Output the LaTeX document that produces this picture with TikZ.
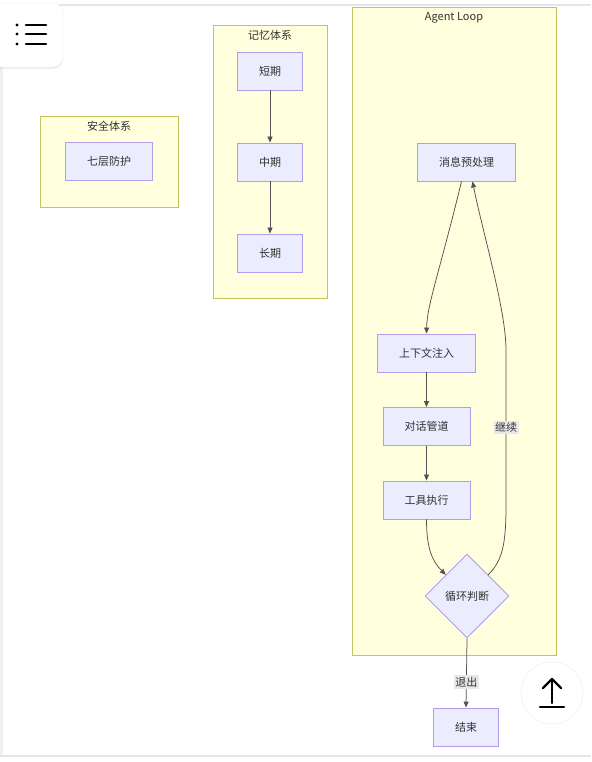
\documentclass[tikz,border=0pt]{standalone}
\usepackage{fontspec}
\setmainfont{Noto Sans CJK SC}
\usetikzlibrary{calc,arrows.meta,positioning,shapes.geometric,shadows}
\definecolor{groupfill}{HTML}{FFFFDE}
\definecolor{groupline}{HTML}{C4C45E}
\definecolor{nodefill}{HTML}{ECECFF}
\definecolor{nodeline}{HTML}{B39DE8}
\definecolor{edgecol}{HTML}{333333}
\definecolor{labelfill}{HTML}{E8E8E8}

\begin{document}
\begin{tikzpicture}[x=1pt, y=-1pt, >={Triangle[length=6pt,width=5pt]}, font=\fontsize{11}{13}\selectfont, text=edgecol]
\useasboundingbox (0,0) rectangle (591,762);
% Define styles for groups, blocks, decision and edges
\tikzstyle{group} = [draw=groupline, fill=groupfill, line width=0.8pt, rectangle, inner sep=0pt]
\tikzstyle{grouptitle} = [inner sep=0pt]
\tikzstyle{block} = [draw=nodeline, fill=nodefill, line width=0.9pt, rectangle, minimum height=38pt, inner xsep=21.5pt, inner ysep=0pt]
\tikzstyle{decision} = [draw=nodeline, fill=nodefill, line width=0.9pt, diamond, aspect=1, minimum width=84pt, minimum height=84pt, inner sep=0pt]
\tikzstyle{flow} = [draw=edgecol!85, line width=0.75pt, ->]
\tikzstyle{edgelabel} = [fill=labelfill, inner sep=1.5pt]

% Page frame
\draw[black!10, line width=1.5pt] (0,5) -- (591,5);
\draw[black!6, line width=3pt] (1.5,5) -- (1.5,756);
\draw[black!10, line width=1.5pt] (0,756) -- (591,756);

% Groups
\node[group, minimum width=138pt, minimum height=91pt] (safety) at (109,161.5) {};
\node[grouptitle, below=5.5pt of safety.north] (safetytitle) {安全体系};
\node[group, minimum width=114pt, minimum height=273pt] (memory) at (270,161.5) {};
\node[grouptitle, below=5.5pt of memory.north] (memorytitle) {记忆体系};
\node[group, minimum width=204pt, minimum height=648pt] (agent) at (454,331) {};
\node[grouptitle, below=5.5pt of agent.north] (agenttitle) {Agent Loop};

% Nodes placement
\node[block] (protect) at (109,161.5) {七层防护};
\node[block] (short) at (270,71) {短期};
\node[block, below of=short, node distance=91pt] (mid) {中期};
\node[block, below of=mid, node distance=91pt] (long) {长期};
\node[block] (pre) at (466.5,162) {消息预处理};
\node[block] (inject) at (426.5,353) {上下文注入};
\node[block, below of=inject, node distance=73.5pt] (pipe) {对话管道};
\node[block, below of=pipe, node distance=73.5pt] (tool) {工具执行};
\node[decision] (judge) at (467,596) {循环判断};
\node[block] (finish) at (466,727) {结束};
\coordinate (backlow) at (506,505);
\coordinate (backhigh) at (506,350);

% Draw edges
\draw[flow] (short) -- (mid);
\draw[flow] (mid) -- (long);
\draw[flow] ($(pre.south)+(-5,0)$) .. controls (440,270) and (427,305) .. (inject.north);
\draw[flow] (inject) -- (pipe);
\draw[flow] (pipe) -- (tool);
\draw[flow] (tool.south) .. controls +(0,28) and +(-14,-14) .. (judge.north west);
\draw[flow] (judge.south) -- node[edgelabel, pos=0.63] {退出} (finish.north);

% Loop back from judge to pre
\draw[flow] (judge.north east) .. controls +(14,-14) and +(0,40) .. (backlow)
  -- node[edgelabel] {继续} (backhigh)
  .. controls +(0,-40) and +(10,50) .. ($(pre.south)+(6,0)$);

% Menu and top buttons
\node[draw=black!8, fill=white, rounded corners=10pt, minimum width=72pt, minimum height=64pt,
  drop shadow={opacity=0.12, shadow xshift=0pt, shadow yshift=-2pt}] (menu) at (27,35) {};
\foreach \y in {25,34,44} {
  \fill[black] (17,\y) circle (1.6);
  \draw[black, line width=2.6pt, line cap=round] (26,\y) -- (46,\y);
}
\node[circle, draw=black!8, fill=white, minimum size=62pt] (totop) at (552,693) {};
\draw[black, line width=2.2pt, line cap=round, line join=round] (552,703) -- (552,679);
\draw[black, line width=2.2pt, line cap=round, line join=round] (543,688) -- (552,679) -- (561,688);
\draw[black, line width=2.2pt, line cap=round] (540,707) -- (564,707);
\end{tikzpicture}
\end{document}
